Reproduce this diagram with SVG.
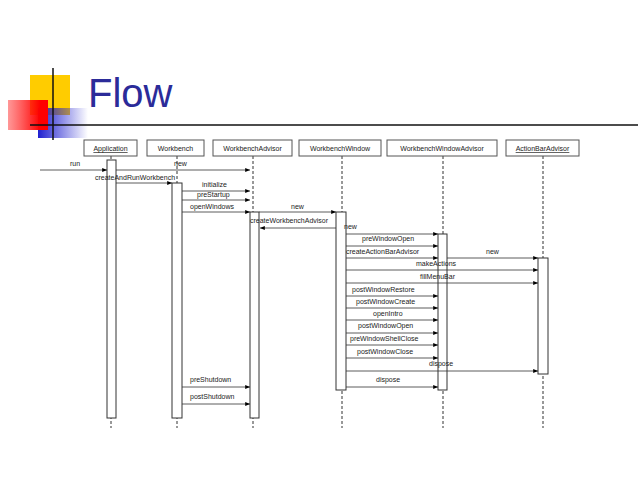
<svg xmlns="http://www.w3.org/2000/svg" width="638" height="478" viewBox="0 0 638 478">
<defs>
<linearGradient id="gr" x1="0" x2="1"><stop offset="0" stop-color="#ff3030" stop-opacity="0.5"/><stop offset="0.8" stop-color="#ff0000"/></linearGradient>
<linearGradient id="gb" x1="0" x2="1"><stop offset="0" stop-color="#2020d0"/><stop offset="1" stop-color="#2020d0" stop-opacity="0"/></linearGradient>
<marker id="a" viewBox="0 0 6 6" refX="6" refY="3" markerWidth="6" markerHeight="6" orient="auto"><path d="M0,0.5L6,3L0,5.5z" fill="#000"/></marker>
<style>
text{font-family:"Liberation Sans",Arial,sans-serif;font-size:7px;fill:#222}
.hd{fill:#fff;stroke:#555;stroke-width:1}
.ll{stroke:#333;stroke-width:1;stroke-dasharray:3,2}
.act{fill:#fff;stroke:#333;stroke-width:1}
.m{stroke:#333;stroke-width:0.8;marker-end:url(#a)}
</style>
</defs>
<rect width="638" height="478" fill="#fff"/>
<rect x="30" y="75" width="40" height="40" fill="#ffcc00"/>
<rect x="38" y="108" width="50" height="30" fill="url(#gb)"/>
<rect x="8" y="100" width="40" height="30" fill="url(#gr)"/>
<line x1="53" y1="68" x2="53" y2="140" stroke="#111" stroke-width="1.5"/>
<line x1="30" y1="125" x2="638" y2="125" stroke="#111" stroke-width="1.5"/>
<text x="88" y="107" style="font-size:40px;fill:#2b2b99">Flow</text>

<g id="Application"><line class="ll" x1="111" y1="156" x2="111" y2="428"/><rect class="hd" x="84" y="140" width="53" height="16"/><text x="110.5" y="151" text-anchor="middle" text-decoration="underline">Application</text><rect class="act" x="107" y="160" width="9" height="258"/></g>
<g id="Workbench"><line class="ll" x1="177" y1="156" x2="177" y2="428"/><rect class="hd" x="147" y="140" width="57" height="16"/><text x="175.5" y="151" text-anchor="middle">Workbench</text><rect class="act" x="172" y="183" width="10" height="235"/></g>
<g id="WorkbenchAdvisor"><line class="ll" x1="253" y1="156" x2="253" y2="428"/><rect class="hd" x="213" y="140" width="79" height="16"/><text x="252.5" y="151" text-anchor="middle">WorkbenchAdvisor</text><rect class="act" x="250" y="212" width="9" height="206"/></g>
<g id="WorkbenchWindow"><line class="ll" x1="342" y1="156" x2="342" y2="428"/><rect class="hd" x="299" y="140" width="82" height="16"/><text x="340" y="151" text-anchor="middle">WorkbenchWindow</text><rect class="act" x="336" y="212" width="10" height="178"/></g>
<g id="WorkbenchWindowAdvisor"><line class="ll" x1="443" y1="156" x2="443" y2="428"/><rect class="hd" x="387" y="140" width="110" height="16"/><text x="442" y="151" text-anchor="middle">WorkbenchWindowAdvisor</text><rect class="act" x="438" y="234" width="9" height="156"/></g>
<g id="ActionBarAdvisor"><line class="ll" x1="543" y1="156" x2="543" y2="428"/><rect class="hd" x="506" y="140" width="73" height="16"/><text x="542.5" y="151" text-anchor="middle" text-decoration="underline">ActionBarAdvisor</text><rect class="act" x="538" y="258" width="10" height="116"/></g>

<g id="connectors">
<line class="m" x1="40" y1="170" x2="107" y2="170"/><text x="70" y="166">run</text>
<line class="m" x1="116" y1="170" x2="250" y2="170"/><text x="174" y="166">new</text>
<text x="95" y="180">createAndRunWorkbench</text><line class="m" x1="116" y1="183" x2="172" y2="183"/>
<text x="202" y="187">initialize</text><line class="m" x1="182" y1="191" x2="250" y2="191"/>
<text x="197" y="197">preStartup</text><line class="m" x1="182" y1="200" x2="250" y2="200"/>
<text x="190" y="209">openWindows</text><line class="m" x1="182" y1="212" x2="250" y2="212"/>
<text x="291" y="209">new</text><line class="m" x1="259" y1="212" x2="336" y2="212"/>
<text x="250" y="223">createWorkbenchAdvisor</text><line class="m" x1="336" y1="228" x2="260" y2="228"/>
<text x="344" y="229">new</text><line class="m" x1="346" y1="234" x2="438" y2="234"/>
<text x="362" y="241">preWindowOpen</text><line class="m" x1="346" y1="246" x2="438" y2="246"/>
<text x="346" y="254">createActionBarAdvisor</text><line class="m" x1="346" y1="258" x2="438" y2="258"/>
<text x="486" y="254">new</text><line class="m" x1="447" y1="258" x2="538" y2="258"/>
<text x="416" y="266">makeActions</text><line class="m" x1="346" y1="270" x2="538" y2="270"/>
<text x="420" y="279">fillMenuBar</text><line class="m" x1="346" y1="283" x2="538" y2="283"/>
<text x="352" y="292">postWindowRestore</text><line class="m" x1="346" y1="296" x2="438" y2="296"/>
<text x="356" y="304">postWindowCreate</text><line class="m" x1="346" y1="308" x2="438" y2="308"/>
<text x="373" y="316">openIntro</text><line class="m" x1="346" y1="320" x2="438" y2="320"/>
<text x="358" y="328">postWindowOpen</text><line class="m" x1="346" y1="333" x2="438" y2="333"/>
<text x="350" y="341">preWindowShellClose</text><line class="m" x1="346" y1="345" x2="438" y2="345"/>
<text x="357" y="354">postWindowClose</text><line class="m" x1="346" y1="358" x2="438" y2="358"/>
<text x="429" y="366">dispose</text><line class="m" x1="346" y1="371" x2="538" y2="371"/>
<text x="376" y="382">dispose</text><line class="m" x1="346" y1="387" x2="438" y2="387"/>
<text x="190" y="382">preShutdown</text><line class="m" x1="182" y1="387" x2="250" y2="387"/>
<text x="190" y="399">postShutdown</text><line class="m" x1="182" y1="404" x2="250" y2="404"/>
</g>
</svg>
